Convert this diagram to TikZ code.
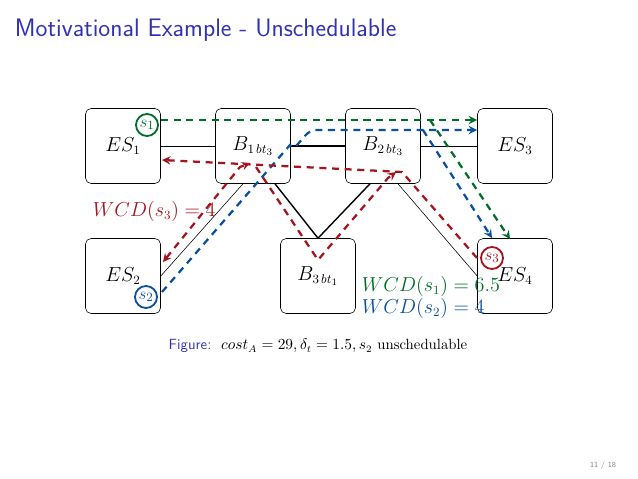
\documentclass[tikz,border=0pt]{standalone}
\usetikzlibrary{positioning}
\definecolor{titleblue}{RGB}{51,51,178}
\definecolor{sgreen}{RGB}{0,110,40}
\definecolor{sblue}{RGB}{10,80,160}
\definecolor{sred}{RGB}{165,20,30}
\tikzset{
	box/.style={draw, rounded corners=4pt, minimum width=1.875cm, minimum height=1.875cm, font=\fontsize{13.5}{16}\selectfont\sffamily},
	flow/.style={line width=1.6, dashed, dash pattern=on 5pt off 4pt, ->, >=stealth},
	stream/.style={draw, circle, line width=1.3, inner sep=0.5pt, minimum size=0.55cm, font=\fontsize{13}{15}\selectfont},
}
\begin{document}
\begin{tikzpicture}[x=0.025cm, y=-0.025cm]
		\useasboundingbox (0, 0) rectangle (638, 479);
		\node[anchor=west, text=titleblue, font=\fontsize{18}{22}\selectfont\sffamily] (title) at (10, 30) {Motivational Example - Unschedulable};

		\node[box] (ES1) at (123, 146) {$ES_1$};
		\node[box] (B1) at (253, 146) {$B_{1\,bt_3}$};
		\node[box] (B2) at (383, 146) {$B_{2\,bt_3}$};
		\node[box] (ES3) at (515, 146) {$ES_3$};
		\node[box] (ES2) at (123, 276) {$ES_2$};
		\node[box] (B3) at (318, 276) {$B_{3\,bt_1}$};
		\node[box] (ES4) at (515, 276) {$ES_4$};

		\draw (ES1) -- (B1);
		\draw [line width=1] (B1) -- (B2);
		\draw (B2) -- (ES3);
		\draw (B1.south) ++(-10, 0) coordinate (b1a) -- (ES2.east) coordinate (es2a);
		\draw [line width=1] (B1.south) ++(22, 0) coordinate (b1b) -- (B3.north) ++(-5, 0) coordinate (b3a);
		\draw [line width=1] (B2.south) ++(-13, 0) coordinate (b2a) -- (B3.north) ++(5, 0) coordinate (b3b);
		\draw (B2.south) ++(15, 0) coordinate (b2b) -- (ES4.west) coordinate (es4a);

		\node[stream, sgreen] (s1) at (147, 125) {$s_1$};
		\node[stream, sblue] (s2) at (146, 297) {$s_2$};
		\node[stream, sred] (s3) at (492, 258) {$s_3$};

		% stream s1
		\draw [flow, sgreen] (161, 120) -- (477, 120);
		\draw [flow, sgreen] (430, 120) -- (510, 239);
		% stream s2
		\draw [flow, sblue] (162, 292) -- (290, 145) to[out=-60, in=180] (315, 130) -- (477, 130);
		\draw [flow, sblue] (423, 130) -- (492, 238);
		% stream s3
		\draw [flow, sred] (477, 258) -- (402, 172) -- (162, 160);
		\draw [flow, sred, <->] (163, 262) -- (240, 167) -- (250, 163);
		\draw [flow, sred] (256, 167) -- (318, 260) -- (388, 178) -- (396, 172);

		\node[anchor=west, text=sred, font=\fontsize{13.5}{16}\selectfont] (wcd3) at (88, 211) {$WCD(s_3)=4$};
		\node[anchor=west, text=sgreen, font=\fontsize{13.5}{16}\selectfont] (wcd1) at (357, 286) {$WCD(s_1)=6.5$};
		\node[anchor=west, text=sblue, font=\fontsize{13.5}{16}\selectfont] (wcd2) at (357, 308) {$WCD(s_2)=4$};

		\node[font=\fontsize{10.5}{13}\selectfont] (caption) at (318, 346) {\textcolor{titleblue}{\sffamily Figure:}\ \ $cost_A=29, \delta_t=1.5, s_2$ unschedulable};
		\node[text=gray, font=\fontsize{5.5}{7}\selectfont\sffamily] (page) at (603, 466) {11 / 18};
	\end{tikzpicture}
\end{document}
